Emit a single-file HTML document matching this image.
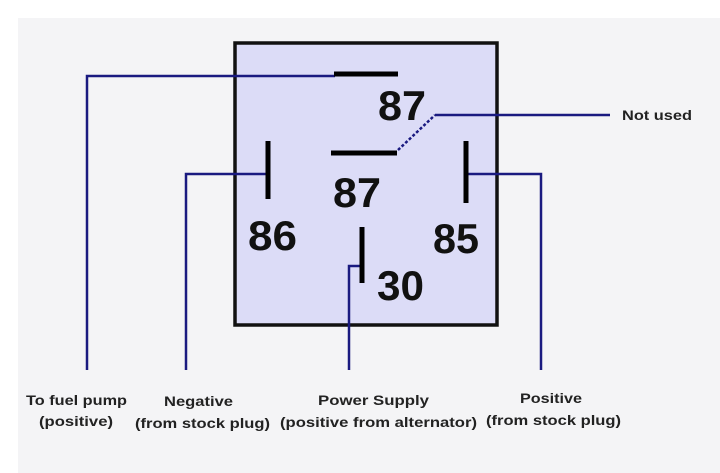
<!DOCTYPE html>
<html><head><style>
html,body{margin:0;padding:0;background:#fff;}
</style></head><body>
<svg width="720" height="473" viewBox="0 0 720 473" xmlns="http://www.w3.org/2000/svg" style="display:block">
<rect x="0" y="0" width="720" height="473" fill="#fff"/>
<rect x="18" y="18" width="702" height="455" fill="#f4f4f6"/>
<rect x="235" y="43" width="262" height="282" fill="#dcdcf7" stroke="#111" stroke-width="3.5"/>
<g stroke="#1a1a80" stroke-width="2.5" fill="none">
<polyline points="335,76 87,76 87,370"/>
<polyline points="268,174 186,174 186,370"/>
<polyline points="466,174 541,174 541,370"/>
<polyline points="362,266 349,266 349,370"/>
<polyline points="435,115 610,115"/>
<line x1="398" y1="150" x2="435" y2="115" stroke-dasharray="3,2"/>
</g>
<g stroke="#000" stroke-width="5">
<line x1="334" y1="74" x2="398" y2="74"/>
<line x1="331" y1="153" x2="397" y2="153"/>
<line x1="268" y1="141" x2="268" y2="199"/>
<line x1="466" y1="141" x2="466" y2="203"/>
<line x1="362" y1="227" x2="362" y2="283"/>
</g>
<g font-family="Liberation Sans Narrow, Liberation Sans, sans-serif" font-weight="bold" font-size="42" fill="#111">
<text x="378" y="120" textLength="48" lengthAdjust="spacingAndGlyphs">87</text>
<text x="333" y="207" textLength="48" lengthAdjust="spacingAndGlyphs">87</text>
<text x="248" y="250" textLength="49" lengthAdjust="spacingAndGlyphs">86</text>
<text x="433" y="253" textLength="46" lengthAdjust="spacingAndGlyphs">85</text>
<text x="377" y="300" textLength="47" lengthAdjust="spacingAndGlyphs">30</text>
</g>
<g font-family="Liberation Sans Narrow, Liberation Sans, sans-serif" font-weight="bold" font-size="14" fill="#222" lengthAdjust="spacingAndGlyphs">
<text x="622" y="120" textLength="70" lengthAdjust="spacingAndGlyphs">Not used</text>
<text x="26" y="405" textLength="101" lengthAdjust="spacingAndGlyphs">To fuel pump</text>
<text x="39" y="426" textLength="74" lengthAdjust="spacingAndGlyphs">(positive)</text>
<text x="164" y="406" textLength="69" lengthAdjust="spacingAndGlyphs">Negative</text>
<text x="135" y="428" textLength="135" lengthAdjust="spacingAndGlyphs">(from stock plug)</text>
<text x="318" y="405" textLength="111" lengthAdjust="spacingAndGlyphs">Power Supply</text>
<text x="280" y="427" textLength="197" lengthAdjust="spacingAndGlyphs">(positive from alternator)</text>
<text x="520" y="403" textLength="62" lengthAdjust="spacingAndGlyphs">Positive</text>
<text x="486" y="425" textLength="135" lengthAdjust="spacingAndGlyphs">(from stock plug)</text>
</g>
</svg>
</body></html>
